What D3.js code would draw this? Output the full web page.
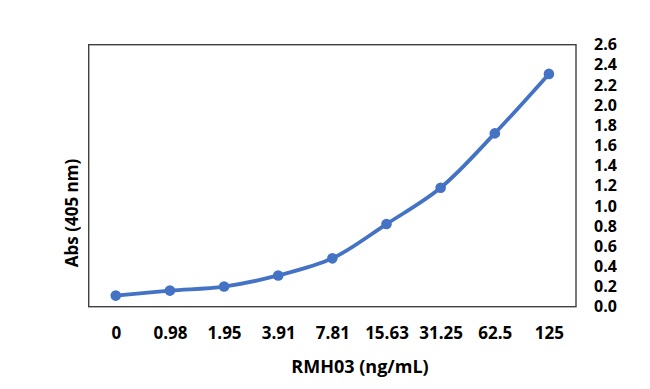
<!DOCTYPE html>
<html lang="en">
<head>
    <meta charset="UTF-8">
    <title>RMH03 standard curve</title>
    <style>
        body { margin: 0; background: #fff; }
        text {
            font-family: "Open Sans", Lato, sans-serif;
            font-weight: bold;
            fill: #000;
        }
    </style>
</head>
<body>
    <div id="chart"></div>
    <script src="https://d3js.org/d3.v7.min.js"></script>
    <script>

        // values
        var concentrations = ["0", "0.98", "1.95", "3.91", "7.81", "15.63", "31.25", "62.5", "125"];
        var absorbance = [0.11, 0.16, 0.20, 0.31, 0.48, 0.82, 1.18, 1.72, 2.31];
        var yTicks = [0, 0.2, 0.4, 0.6, 0.8, 1.0, 1.2, 1.4, 1.6, 1.8, 2.0, 2.2, 2.4, 2.6];

        var width = 650, height = 389;
        var box = {left: 88.7, right: 576, top: 44.7, bottom: 306.7};

        var svg = d3.select("#chart").append("svg")
            .attr("width", width)
            .attr("height", height);

        var x = d3.scalePoint()
            .domain(concentrations)
            .range([box.left, box.right])
            .padding(0.5);

        var y = d3.scaleLinear()
            .domain([0, 2.6])
            .range([box.bottom, box.top]);

        // plot frame
        svg.append("rect")
            .attr("x", box.left)
            .attr("y", box.top)
            .attr("width", box.right - box.left)
            .attr("height", box.bottom - box.top)
            .attr("fill", "none")
            .attr("stroke", "#404040")
            .attr("stroke-width", 1.4);

        // y axis sits on the right, outside the frame
        var yAxis = svg.append("g")
            .attr("transform", "translate(" + box.right + ",0)")
            .call(d3.axisRight(y).tickValues(yTicks).tickSize(0).tickPadding(18).tickFormat(d3.format(".1f")));
        yAxis.select(".domain").remove();
        yAxis.selectAll("text").style("font-size", "16px").style("font-family", null);

        var xAxis = svg.append("g")
            .attr("transform", "translate(0," + box.bottom + ")")
            .call(d3.axisBottom(x).tickSize(0).tickPadding(20.5));
        xAxis.select(".domain").remove();
        xAxis.selectAll("text").style("font-size", "17px").style("font-family", null);

        var pts = concentrations.map(function(c, i) { return [x(c), y(absorbance[i])]; });

        var line = d3.line().curve(d3.curveCatmullRom.alpha(0.5));

        svg.append("path")
            .attr("d", line(pts))
            .attr("fill", "none")
            .attr("stroke", "#4472C4")
            .attr("stroke-width", 3.8)
            .attr("stroke-linecap", "round");

        svg.selectAll("circle.pt")
            .data(absorbance)
            .enter()
            .append("circle")
            .attr("class", "pt")
            .attr("cx", function(d, i) { return x(concentrations[i]); })
            .attr("cy", function(d) { return y(d); })
            .attr("r", 5.3)
            .attr("fill", "#4472C4");

        svg.append("text")
            .attr("x", 360)
            .attr("y", 373)
            .attr("text-anchor", "middle")
            .style("font-size", "18px")
            .text("RMH03 (ng/mL)");

        svg.append("text")
            .attr("transform", "translate(78,213) rotate(-90)")
            .attr("text-anchor", "middle")
            .style("font-size", "17px")
            .text("Abs (405 nm)");

    </script>
</body>
</html>
